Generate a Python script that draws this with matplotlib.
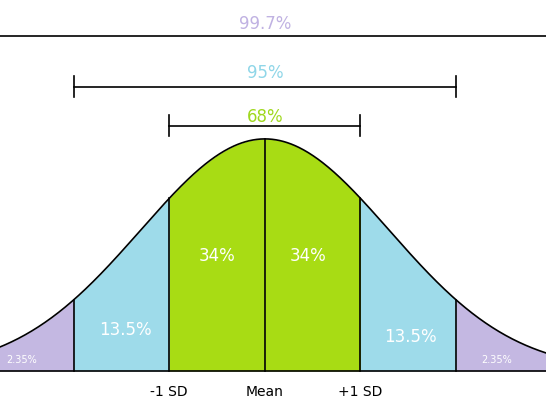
import numpy as np
import matplotlib
matplotlib.use("Agg")
import matplotlib.pyplot as plt

bounds = [-2, -1, 0, 1, 2]
region_edges = [(-4, -2), (-2, -1), (-1, 0), (0, 1), (1, 2), (2, 4)]
region_colors = ["#c4b8e2", "#9edbea", "#a8dc14", "#a8dc14", "#9edbea", "#c4b8e2"]
region_labels = ["2.35%", "13.5%", "34%", "34%", "13.5%", "2.35%"]
label_pos = [(-2.54, 0.05), (-1.46, 0.18), (-0.5, 0.50), (0.45, 0.50), (1.52, 0.15), (2.42, 0.05)]
label_sizes = [7, 12, 12, 12, 12, 7]
brackets = [("99.7%", -3, 3, 1.444, 1.50, "#c0b2e2"),
            ("95%", -2, 2, 1.224, 1.29, "#8fd6e8"),
            ("68%", -1, 1, 1.056, 1.10, "#9fd81e")]
ticks = [-1, 0, 1]
tick_labels = ["-1 SD", "Mean", "+1 SD"]

f = lambda x: np.exp(-x**2 / (2 * 1.3**2))

fig = plt.figure(figsize=(5.46, 4.10), dpi=100)
ax = fig.add_axes([0, 0, 1, 1])
ax.set_xlim(-2.77, 2.94)
ax.set_ylim(-0.164, 1.603)
ax.axis("off")

for (a, b), c in zip(region_edges, region_colors):
    xs = np.linspace(a, b, 200)
    ax.fill_between(xs, 0, f(xs), color=c, lw=0)
xs = np.linspace(-4, 4, 800)
ax.plot(xs, f(xs), color="black", lw=1.2)
ax.plot([-4, 4], [0, 0], color="black", lw=1.2)
for b in bounds:
    ax.plot([b, b], [0, f(b)], color="black", lw=1.2)
for t, (x, y), s in zip(region_labels, label_pos, label_sizes):
    ax.text(x, y, t, color="white", fontsize=s, ha="center", va="center")
for t, a, b, ly, ty, c in brackets:
    ax.plot([a, b], [ly, ly], color="black", lw=1.2)
    for e in (a, b):
        ax.plot([e, e], [ly - 0.045, ly + 0.045], color="black", lw=1.2)
    ax.text((a + b) / 2, ty, t, color=c, fontsize=12, ha="center", va="center")
for x, t in zip(ticks, tick_labels):
    ax.text(x, -0.086, t, color="black", fontsize=10, ha="center", va="center")

fig.savefig("out.png", dpi=100)
